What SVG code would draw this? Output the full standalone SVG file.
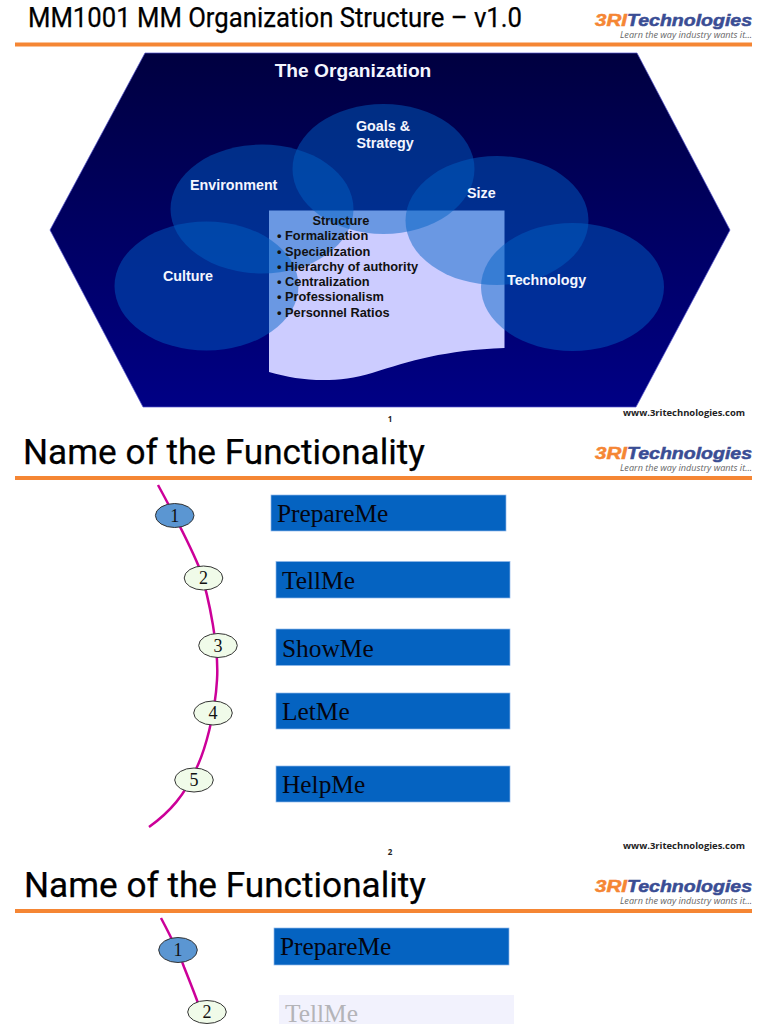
<svg xmlns="http://www.w3.org/2000/svg" width="768" height="1024" viewBox="0 0 768 1024">
<style>
.title{font-family:"Roboto","Liberation Sans",sans-serif;font-weight:400;fill:#000;stroke:#000;stroke-width:.25}
.bar{fill:#f58634}
.lg{font-family:"Liberation Sans",sans-serif;font-weight:700;font-style:italic;font-size:16px;stroke-width:.5}
.tag{font-family:"Open Sans",sans-serif;font-style:italic;font-size:8.5px;fill:#666}
.web{font-family:"Open Sans",sans-serif;font-weight:700;font-size:9.5px;fill:#222}
.pg{font-family:"Open Sans",sans-serif;font-weight:700;font-size:8px;fill:#222;text-anchor:middle}
.w{font-family:"Liberation Sans",sans-serif;font-weight:700;fill:#f4f6ff;font-size:14.300px}
.k{font-family:"Liberation Sans",sans-serif;font-weight:700;fill:#111;font-size:12.800px}
.e{fill:#0060c4;fill-opacity:.48}
.box{fill:#0563c1;stroke:#8fb8ea;stroke-width:.7}
.bt{font-family:"Liberation Serif",serif;font-size:25.400px;fill:#05050f}
.n{stroke:#333;stroke-width:1;fill:#f0fbe9}
.n1{fill:#5b96d2}
.nt{font-family:"Liberation Serif",serif;font-size:18px;fill:#111;text-anchor:middle}
.curve{fill:none;stroke:#cc0099;stroke-width:2.500}
</style>
<defs>
<linearGradient id="hex" x1="0" y1="0" x2="0" y2="1"><stop offset="0" stop-color="#000040"/><stop offset="1" stop-color="#000085"/></linearGradient>
</defs>
<rect width="768" height="1024" fill="#fff"/>
<g id="header-1">
<text class="title" x="28" y="27" font-size="27" textLength="494" lengthAdjust="spacingAndGlyphs">MM1001 MM Organization Structure – v1.0</text>
<rect class="bar" x="15" y="42.500" width="737" height="4"/>
<text class="lg" x="595" y="26" textLength="32" lengthAdjust="spacingAndGlyphs" fill="#f58634" stroke="#f58634">3RI</text>
<text class="lg" x="627" y="26" textLength="125" lengthAdjust="spacingAndGlyphs" fill="#3a4d94" stroke="#3a4d94">Technologies</text>
<text class="tag" x="620" y="38" textLength="132" lengthAdjust="spacingAndGlyphs">Learn the way industry wants it...</text>
</g>
<g id="organization">
<polygon points="145,53 637,53 730,230 636,407 143,407 50,230" fill="url(#hex)" stroke="#5555cc" stroke-width=".7"/>
<text class="w" x="353" y="77" text-anchor="middle" style="font-size:19.200px">The Organization</text>
<path d="M269 210.500H504.500V348C445 350 410 361 372 373C335 384 300 381 269 372Z" fill="#ccccff"/>
<ellipse class="e" cx="383.500" cy="169" rx="91" ry="65"/>
<ellipse class="e" cx="262" cy="209" rx="91.500" ry="64.500"/>
<ellipse class="e" cx="206.500" cy="286" rx="92" ry="64.500"/>
<ellipse class="e" cx="497" cy="220.500" rx="91.500" ry="64.500"/>
<ellipse class="e" cx="572.500" cy="287" rx="91.500" ry="64"/>
<text class="w" x="356" y="131">Goals &amp;</text>
<text class="w" x="356.500" y="148">Strategy</text>
<text class="w" x="190" y="190">Environment</text>
<text class="w" x="163" y="281">Culture</text>
<text class="w" x="467" y="198">Size</text>
<text class="w" x="507" y="285">Technology</text>
<text class="k" x="341" y="224.500" text-anchor="middle">Structure</text>
<text class="k" x="277" y="240">• Formalization</text>
<text class="k" x="277" y="256">• Specialization</text>
<text class="k" x="277" y="271">• Hierarchy of authority</text>
<text class="k" x="277" y="286">• Centralization</text>
<text class="k" x="277" y="301">• Professionalism</text>
<text class="k" x="277" y="317">• Personnel Ratios</text>
<text class="web" x="623" y="416" textLength="122" lengthAdjust="spacingAndGlyphs">www.3ritechnologies.com</text>
<text class="pg" x="390" y="422">1</text>
</g>
<g id="header-2">
<text class="title" x="23" y="464" font-size="35" textLength="402" lengthAdjust="spacingAndGlyphs">Name of the Functionality</text>
<rect class="bar" x="15" y="476" width="737" height="4"/>
<text class="lg" x="595" y="459" textLength="32" lengthAdjust="spacingAndGlyphs" fill="#f58634" stroke="#f58634">3RI</text>
<text class="lg" x="627" y="459" textLength="125" lengthAdjust="spacingAndGlyphs" fill="#3a4d94" stroke="#3a4d94">Technologies</text>
<text class="tag" x="620" y="471" textLength="132" lengthAdjust="spacingAndGlyphs">Learn the way industry wants it...</text>
</g>
<g id="connectors">
<path class="curve" d="M158 485C170 507 191 548 199 567C210 600 219 650 217 680C215 715 205 750 197 767C185 795 170 812 149 827"/>
<path class="curve" d="M161 918C170 935 178 950 184 967C190 982 194 992 198 1003"/>
</g>
<g id="step-1"><rect class="box" x="271" y="495" width="235" height="36"/><text class="bt" x="277" y="522">PrepareMe</text><ellipse class="n n1" cx="174.700" cy="515.500" rx="19.300" ry="12"/><text class="nt" x="174.700" y="521.500">1</text></g>
<g id="step-2"><rect class="box" x="276" y="561.500" width="234" height="36.500"/><text class="bt" x="282" y="589">TellMe</text><ellipse class="n" cx="203.500" cy="578" rx="19.300" ry="12"/><text class="nt" x="203.500" y="584">2</text></g>
<g id="step-3"><rect class="box" x="276" y="629" width="234" height="36.500"/><text class="bt" x="282" y="656.500">ShowMe</text><ellipse class="n" cx="218" cy="645.500" rx="19.300" ry="12"/><text class="nt" x="218" y="651.500">3</text></g>
<g id="step-4"><rect class="box" x="276" y="693" width="234" height="36"/><text class="bt" x="282" y="720">LetMe</text><ellipse class="n" cx="213" cy="713" rx="19.300" ry="12"/><text class="nt" x="213" y="719">4</text></g>
<g id="step-5"><rect class="box" x="276" y="766" width="234" height="36"/><text class="bt" x="282" y="792.500">HelpMe</text><ellipse class="n" cx="194" cy="780" rx="19.300" ry="12"/><text class="nt" x="194" y="786">5</text></g>
<g id="footer-2">
<text class="web" x="623" y="849" textLength="122" lengthAdjust="spacingAndGlyphs">www.3ritechnologies.com</text>
<text class="pg" x="390" y="855">2</text>
</g>
<g id="header-3">
<text class="title" x="24" y="897" font-size="35" textLength="402" lengthAdjust="spacingAndGlyphs">Name of the Functionality</text>
<rect class="bar" x="15" y="909" width="737" height="4"/>
<text class="lg" x="595" y="892" textLength="32" lengthAdjust="spacingAndGlyphs" fill="#f58634" stroke="#f58634">3RI</text>
<text class="lg" x="627" y="892" textLength="125" lengthAdjust="spacingAndGlyphs" fill="#3a4d94" stroke="#3a4d94">Technologies</text>
<text class="tag" x="620" y="904" textLength="132" lengthAdjust="spacingAndGlyphs">Learn the way industry wants it...</text>
</g>
<g id="step-3-1"><rect class="box" x="274" y="928" width="235" height="37"/><text class="bt" x="280" y="955">PrepareMe</text><ellipse class="n n1" cx="178" cy="950" rx="19.300" ry="12.500"/><text class="nt" x="178" y="956">1</text></g>
<g id="step-3-2"><rect x="279" y="995" width="235" height="29" fill="#f2f2fd"/><text class="bt" x="285" y="1022" style="fill:#b4b4b8">TellMe</text><ellipse class="n" cx="207" cy="1012" rx="19.300" ry="11.500"/><text class="nt" x="207" y="1018">2</text></g>
</svg>
